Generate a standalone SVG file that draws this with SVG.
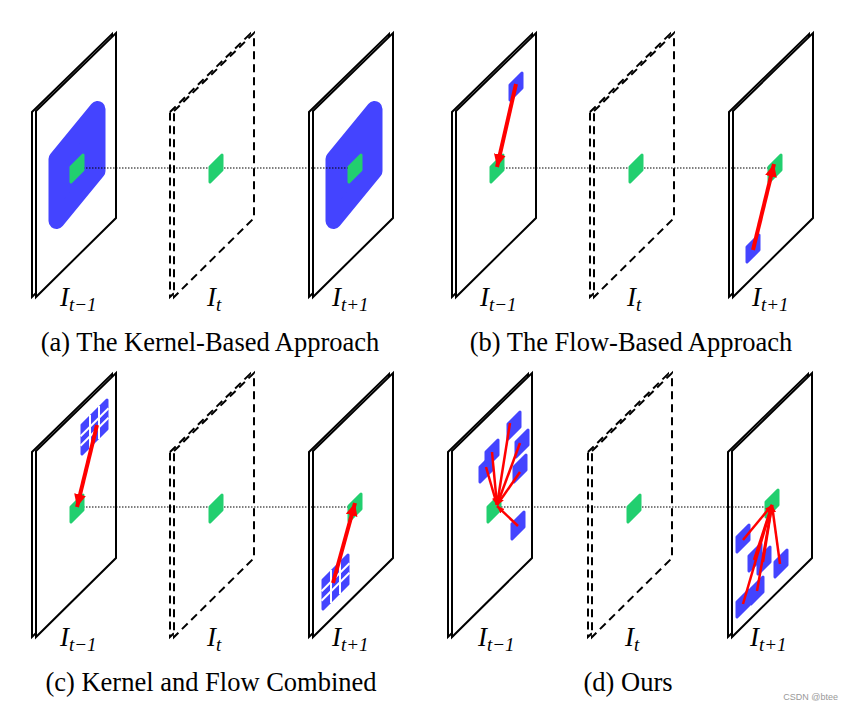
<svg xmlns="http://www.w3.org/2000/svg" xmlns:xlink="http://www.w3.org/1999/xlink" width="848" height="707" viewBox="0 0 848 707">
<style>
.fr{fill:#fff;stroke:#000;stroke-width:2;stroke-linejoin:miter}
.dfr{fill:#fff;stroke:#000;stroke-width:2;stroke-dasharray:8 5}
.g{fill:#22cf6f;stroke:#22cf6f;stroke-width:3;stroke-linejoin:round}
.b{fill:#4444ff;stroke:#4444ff;stroke-width:3;stroke-linejoin:round}
.big{fill:#4444ff;stroke:#4444ff;stroke-width:16;stroke-linejoin:round}
.gl{stroke:#fff;stroke-width:2;fill:none}
.dot{stroke:#000;stroke-width:1.2;stroke-dasharray:1.5 1.5;fill:none}
.ar{stroke:#ff0000;stroke-width:4;fill:none;marker-end:url(#ah)}
.ar2{stroke:#ff0000;stroke-width:2.5;fill:none;marker-end:url(#ah2)}
.lb{font-family:"Liberation Serif",serif;font-style:italic;font-size:27px}
.sb{font-size:19px}
.cap{font-family:"Liberation Serif",serif;font-size:26.5px;text-anchor:middle}
</style>
<defs>
<marker id="ah" markerWidth="4" markerHeight="4" refX="3.2" refY="1.5" orient="auto" markerUnits="strokeWidth"><path d="M0,0 L3.2,1.5 L0,3 Z" fill="#ff0000"/></marker>
<marker id="ah2" markerWidth="4" markerHeight="4" refX="3" refY="1.2" orient="auto" markerUnits="strokeWidth"><path d="M0,0 L3,1.2 L0,2.4 Z" fill="#ff0000"/></marker>
<g id="frame"><polygon class="fr" points="-4,79 76,1 76,186 -4,264"/><polygon class="fr" points="0,78 80,0 80,185 0,264"/></g>
<g id="dframe"><polygon class="dfr" points="-4,79 76,1 76,186 -4,264"/><polygon class="dfr" points="0,78 80,0 80,185 0,264"/></g>
<path id="p" d="M-6,-1 L6,-13 L6,2 L-6,14 Z"/>
<g id="grid"><path class="b" d="M-12.5,-2 L12.5,-27 L12.5,2 L-12.5,27 Z"/>
<path class="gl" d="M-4.5,-12 V21 M4.5,-21 V12 M-14,9.2 L14,-18.8 M-14,18.8 L14,-9.2"/></g>
<polygon id="bigb" class="big" points="-20.5,-6 20.5,-56 20.5,6 -20.5,56"/>
</defs>

<!-- Panel a -->
<g id="panel-a">
<use xlink:href="#frame" x="36" y="33"/>
<use xlink:href="#dframe" x="174" y="33"/>
<use xlink:href="#frame" x="313" y="33"/>
<use xlink:href="#bigb" x="77" y="165"/>
<use xlink:href="#bigb" x="354" y="165"/>
<path class="dot" d="M77,168 H356"/>
<use xlink:href="#p" class="g" x="77" y="168"/>
<use xlink:href="#p" class="g" x="216" y="168"/>
<use xlink:href="#p" class="g" x="355" y="168"/>
<text class="lb" x="60" y="306">I<tspan class="sb" dy="5">t−1</tspan></text>
<text class="lb" x="207" y="306">I<tspan class="sb" dy="5">t</tspan></text>
<text class="lb" x="332" y="306">I<tspan class="sb" dy="5">t+1</tspan></text>
<text class="cap" x="210" y="351">(a) The Kernel-Based Approach</text>
</g>

<!-- Panel b -->
<g id="panel-b">
<use xlink:href="#frame" x="456" y="33"/>
<use xlink:href="#dframe" x="594" y="33"/>
<use xlink:href="#frame" x="733" y="33"/>
<use xlink:href="#p" class="b" x="516" y="86"/>
<use xlink:href="#p" class="b" x="753" y="248"/>
<path class="dot" d="M497,168 H775"/>
<use xlink:href="#p" class="g" x="497" y="168"/>
<use xlink:href="#p" class="g" x="636" y="168"/>
<use xlink:href="#p" class="g" x="775" y="168"/>
<text class="lb" x="480" y="306">I<tspan class="sb" dy="5">t−1</tspan></text>
<text class="lb" x="627" y="306">I<tspan class="sb" dy="5">t</tspan></text>
<text class="lb" x="752" y="306">I<tspan class="sb" dy="5">t+1</tspan></text>
<text class="cap" x="631" y="351">(b) The Flow-Based Approach</text>
</g>

<!-- Panel c -->
<g id="panel-c">
<use xlink:href="#frame" x="36" y="373"/>
<use xlink:href="#dframe" x="174" y="373"/>
<use xlink:href="#frame" x="313" y="373"/>
<use xlink:href="#grid" x="94.5" y="427"/>
<use xlink:href="#grid" x="335.5" y="582"/>
<path class="dot" d="M77,507 H356"/>
<use xlink:href="#p" class="g" x="77" y="508"/>
<use xlink:href="#p" class="g" x="216" y="508"/>
<use xlink:href="#p" class="g" x="355" y="507"/>
<text class="lb" x="60" y="646">I<tspan class="sb" dy="5">t−1</tspan></text>
<text class="lb" x="207" y="646">I<tspan class="sb" dy="5">t</tspan></text>
<text class="lb" x="332" y="646">I<tspan class="sb" dy="5">t+1</tspan></text>
<text class="cap" x="211" y="691">(c) Kernel and Flow Combined</text>
</g>

<!-- Panel d -->
<g id="panel-d">
<use xlink:href="#frame" x="452" y="373"/>
<use xlink:href="#dframe" x="592" y="373"/>
<use xlink:href="#frame" x="732" y="373"/>
<use xlink:href="#p" class="b" x="514" y="425"/>
<use xlink:href="#p" class="b" x="522" y="443"/>
<use xlink:href="#p" class="b" x="492" y="453"/>
<use xlink:href="#p" class="b" x="486" y="468"/>
<use xlink:href="#p" class="b" x="520" y="468"/>
<use xlink:href="#p" class="b" x="518" y="525"/>
<use xlink:href="#p" class="b" x="743" y="538"/>
<use xlink:href="#p" class="b" x="755" y="557"/>
<use xlink:href="#p" class="b" x="764" y="560"/>
<use xlink:href="#p" class="b" x="781" y="563"/>
<use xlink:href="#p" class="b" x="743" y="603"/>
<use xlink:href="#p" class="b" x="757" y="590"/>
<path class="dot" d="M495,507 H773"/>
<use xlink:href="#p" class="g" x="494" y="508"/>
<use xlink:href="#p" class="g" x="634" y="508"/>
<use xlink:href="#p" class="g" x="772" y="503"/>
<text class="lb" x="478" y="646">I<tspan class="sb" dy="5">t−1</tspan></text>
<text class="lb" x="625" y="646">I<tspan class="sb" dy="5">t</tspan></text>
<text class="lb" x="750" y="646">I<tspan class="sb" dy="5">t+1</tspan></text>
<text class="cap" x="628" y="691">(d) Ours</text>
</g>

<g id="connectors">
<path class="ar" d="M516,84 L497,167"/>
<path class="ar" d="M753,250 L774,164"/>
<path class="ar" d="M97,425 L77,507"/>
<path class="ar" d="M333,583 L355,503"/>
<path class="ar2" d="M510,423 L497,505"/>
<path class="ar2" d="M520,443 L497,505"/>
<path class="ar2" d="M492,452 L497,505"/>
<path class="ar2" d="M486,467 L497,505"/>
<path class="ar2" d="M520,472 L497,505"/>
<path class="ar2" d="M518,526 L497,506"/>
<path class="ar2" d="M743,540 L772,505"/>
<path class="ar2" d="M754,560 L772,505"/>
<path class="ar2" d="M763,562 L772,505"/>
<path class="ar2" d="M780,564 L772,505"/>
<path class="ar2" d="M743,604 L772,505"/>
<path class="ar2" d="M757,591 L772,505"/>
</g>
<text x="838" y="700" font-family="Liberation Sans, sans-serif" font-size="9" fill="#999" text-anchor="end">CSDN @btee</text>
</svg>
